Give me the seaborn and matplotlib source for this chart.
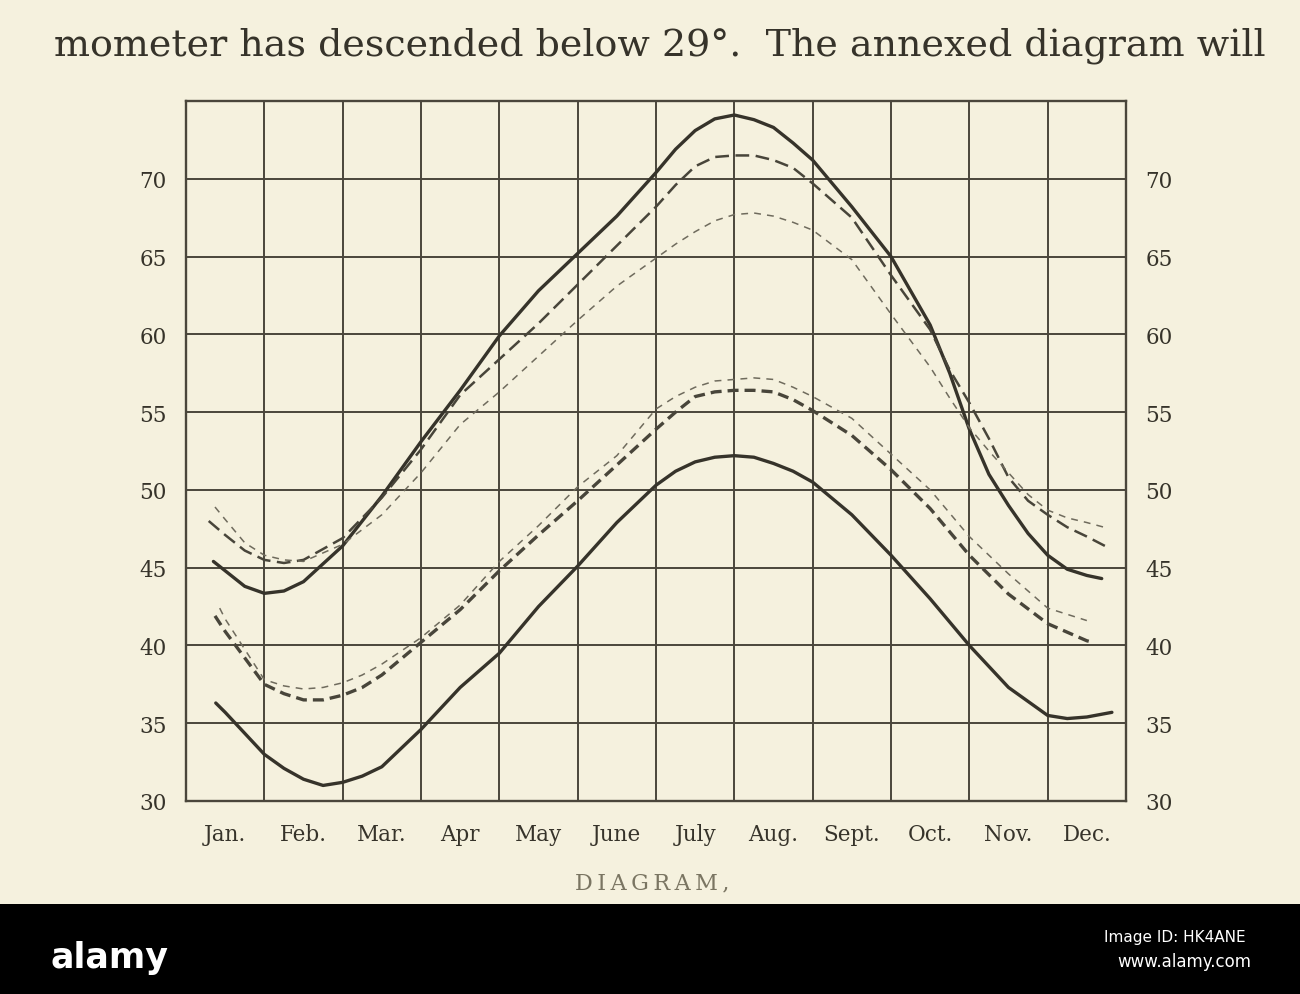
import matplotlib
matplotlib.use("Agg")
import matplotlib.pyplot as plt
from matplotlib.patches import Rectangle
import pandas as pd
import seaborn as sns

# ---------------- data ----------------
months = ["Jan.", "Feb.", "Mar.", "Apr", "May", "June",
          "July", "Aug.", "Sept.", "Oct.", "Nov.", "Dec."]
month_pos = [1, 2, 3, 4, 5, 6, 7, 8, 9, 10, 11, 12]
temp_ticks = [30, 35, 40, 45, 50, 55, 60, 65, 70]

# positions in month units (1 = middle of the Jan. column)
upper_solid_x = [0.85, 1.0, 1.25, 1.5, 1.75, 2.0, 2.5, 3.0, 3.5, 4.0, 4.5, 5.0, 5.5, 6.0,
                 6.5, 6.75, 7.0, 7.25, 7.5, 7.75, 8.0, 8.25, 8.5, 9.0, 9.5, 10.0, 10.25,
                 10.5, 10.75, 11.0, 11.25, 11.5, 11.75, 12.0, 12.19]
upper_solid_y = [45.4, 44.8, 43.8, 43.35, 43.5, 44.1, 46.4, 49.6, 53.1, 56.4, 59.9, 62.8, 65.2, 67.6,
                 70.4, 71.9, 73.1, 73.85, 74.1, 73.8, 73.3, 72.3, 71.2, 68.2, 65.0, 60.6, 57.5,
                 53.9, 51.0, 49.0, 47.2, 45.8, 44.9, 44.5, 44.3]

upper_dash_x = [0.79, 1.0, 1.25, 1.5, 1.75, 2.0, 2.5, 3.0, 3.5, 4.0, 4.5, 5.0, 5.5, 6.0,
                6.5, 6.75, 7.0, 7.25, 7.5, 7.75, 8.0, 8.25, 8.5, 9.0, 9.5, 10.0, 10.25,
                10.5, 10.75, 11.0, 11.25, 11.5, 11.75, 12.0, 12.23]
upper_dash_y = [48.0, 47.1, 46.1, 45.5, 45.3, 45.5, 46.9, 49.5, 52.6, 56.1, 58.4, 60.7, 63.2, 65.7,
                68.2, 69.6, 70.8, 71.4, 71.5, 71.5, 71.2, 70.7, 69.7, 67.5, 63.8, 60.3, 57.7,
                55.6, 53.3, 50.8, 49.3, 48.4, 47.6, 47.0, 46.4]

upper_fine_x = [0.87, 1.0, 1.25, 1.5, 1.75, 2.0, 2.5, 3.0, 3.5, 4.0, 4.5, 5.0, 5.5, 6.0,
                6.5, 6.75, 7.0, 7.25, 7.5, 7.75, 8.0, 8.25, 8.5, 9.0, 9.5, 10.0, 10.25,
                10.5, 10.75, 11.0, 11.25, 11.5, 11.75, 12.0, 12.22]
upper_fine_y = [48.9, 48.1, 46.6, 45.8, 45.5, 45.4, 46.5, 48.4, 51.1, 54.2, 56.3, 58.6, 60.9, 63.1,
                64.9, 65.8, 66.6, 67.3, 67.7, 67.8, 67.6, 67.2, 66.7, 64.8, 61.3, 57.9, 55.9,
                54.0, 52.5, 51.1, 49.7, 48.7, 48.2, 47.9, 47.6]

lower_solid_x = [0.88, 1.0, 1.5, 1.75, 2.0, 2.25, 2.5, 2.75, 3.0, 3.5, 4.0, 4.5, 5.0, 5.5, 6.0,
                 6.5, 6.75, 7.0, 7.25, 7.5, 7.75, 8.0, 8.25, 8.5, 9.0, 9.5, 10.0, 10.5,
                 11.0, 11.5, 11.75, 12.0, 12.32]
lower_solid_y = [36.3, 35.7, 33.0, 32.1, 31.4, 31.0, 31.2, 31.6, 32.2, 34.6, 37.3, 39.5, 42.5, 45.1, 47.9,
                 50.3, 51.2, 51.8, 52.1, 52.2, 52.1, 51.7, 51.2, 50.5, 48.4, 45.8, 43.0, 40.0,
                 37.3, 35.5, 35.3, 35.4, 35.7]

lower_dash_x = [0.87, 1.0, 1.5, 1.75, 2.0, 2.25, 2.5, 2.75, 3.0, 3.5, 4.0, 4.5, 5.0, 5.5, 6.0,
                6.5, 6.75, 7.0, 7.25, 7.5, 7.75, 8.0, 8.25, 8.5, 9.0, 9.5, 10.0, 10.5,
                11.0, 11.5, 12.0, 12.08]
lower_dash_y = [41.9, 40.9, 37.5, 36.9, 36.5, 36.5, 36.8, 37.3, 38.1, 40.2, 42.3, 44.8, 47.1, 49.3, 51.6,
                53.9, 55.0, 56.0, 56.3, 56.4, 56.4, 56.3, 55.8, 55.1, 53.5, 51.3, 48.8, 45.8,
                43.3, 41.4, 40.3, 40.2]

lower_fine_x = [0.93, 1.0, 1.5, 1.75, 2.0, 2.25, 2.5, 2.75, 3.0, 3.5, 4.0, 4.5, 5.0, 5.5, 6.0,
                6.5, 6.75, 7.0, 7.25, 7.5, 7.75, 8.0, 8.25, 8.5, 9.0, 9.5, 10.0, 10.5,
                11.0, 11.5, 12.0]
lower_fine_y = [42.4, 41.7, 37.8, 37.4, 37.2, 37.3, 37.6, 38.1, 38.8, 40.5, 42.6, 45.4, 47.7, 50.2, 52.2,
                55.2, 56.0, 56.6, 57.0, 57.1, 57.2, 57.1, 56.6, 56.0, 54.6, 52.3, 50.0, 47.0,
                44.6, 42.4, 41.6]

series = {
    "upper_solid": (upper_solid_x, upper_solid_y),
    "upper_dash": (upper_dash_x, upper_dash_y),
    "upper_fine": (upper_fine_x, upper_fine_y),
    "lower_solid": (lower_solid_x, lower_solid_y),
    "lower_dash": (lower_dash_x, lower_dash_y),
    "lower_fine": (lower_fine_x, lower_fine_y),
}
df = pd.concat(
    [pd.DataFrame({"month": xs, "temp": ys, "series": name}) for name, (xs, ys) in series.items()],
    ignore_index=True,
)

# ---------------- styling ----------------
paper = "#f5f1de"
ink = "#36332a"
grid_ink = "#4a463b"
light_ink = "#6f6b5d"

sns.set_style("white")
plt.rcParams["font.family"] = ["DejaVu Serif"]

palette = {"upper_solid": ink, "upper_dash": "#48453a", "upper_fine": light_ink,
           "lower_solid": ink, "lower_dash": "#48453a", "lower_fine": light_ink}
dashes = {"upper_solid": "", "upper_dash": (5.5, 2.6), "upper_fine": (4.5, 4.0),
          "lower_solid": "", "lower_dash": (3.3, 1.8), "lower_fine": (4.5, 4.0)}
sizes = {"upper_solid": 2.4, "upper_dash": 1.8, "upper_fine": 1.1,
         "lower_solid": 2.4, "lower_dash": 2.4, "lower_fine": 1.1}

fig = plt.figure(figsize=(13, 9.95), dpi=100, facecolor=paper)
ax = fig.add_axes([186 / 1300, 1 - 802 / 995, 940 / 1300, 700 / 995])
ax.set_facecolor(paper)

sns.lineplot(data=df, x="month", y="temp", hue="series", style="series", size="series",
             palette=palette, dashes=dashes, sizes=sizes, estimator=None, sort=False,
             legend=False, ax=ax, zorder=3)
for line in ax.lines:
    line.set_solid_joinstyle("round")
    line.set_dash_joinstyle("round")

ax.set_xlim(0.5, 12.5)
ax.set_ylim(30, 75)
ax.set_xticks(month_pos)
ax.set_xticklabels(months)
ax.set_xticks([p + 0.5 for p in month_pos[:-1]], minor=True)
ax.set_yticks(temp_ticks)
ax.set_yticklabels([str(t) for t in temp_ticks])
ax.set_xlabel("")
ax.set_ylabel("")

ax.grid(False)
ax.grid(True, which="minor", axis="x", color=grid_ink, linewidth=1.4)
ax.grid(True, which="major", axis="y", color=grid_ink, linewidth=1.4)
ax.set_axisbelow(True)
for sp in ax.spines.values():
    sp.set_visible(True)
    sp.set_color(grid_ink)
    sp.set_linewidth(1.7)

ax.tick_params(axis="x", which="both", length=0, pad=16, labelsize=15.5, labelcolor=ink)
ax.tick_params(axis="y", which="both", length=0, labelsize=15.5, labelcolor=ink,
               left=False, right=False, labelleft=True, labelright=True)
for tick in ax.yaxis.get_major_ticks():
    tick.set_pad(14)

# ---------------- surrounding page text ----------------
top = fig.text(660 / 1300, 1 - 55 / 995,
               "mometer has descended below 29°.  The annexed diagram will",
               ha="center", va="baseline", fontsize=26.5, color=ink, family="DejaVu Serif")
fig.text(652 / 1300, 1 - 883 / 995, "D\u2009I\u2009A\u2009G\u2009R\u2009A\u2009M\u2009,",
         ha="center", va="center", fontsize=16, color="#7a7562", family="DejaVu Serif")

# bottom black band of the scan
fig.patches.append(Rectangle((0, 0), 1, 90 / 995, transform=fig.transFigure,
                             facecolor="black", edgecolor="none", zorder=0))
logo = fig.text(50 / 1300, 1 - 968 / 995, "alamy", ha="left", va="baseline", fontsize=30,
                fontweight="bold", color="white", family=["DejaVu Sans"])
fig.text(1175 / 1300, 1 - 938 / 995, "Image ID: HK4ANE", ha="center", va="center",
         fontsize=11, color="white", family=["DejaVu Sans"])
fig.text(1184 / 1300, 1 - 962 / 995, "www.alamy.com", ha="center", va="center",
         fontsize=12, color="white", family=["DejaVu Sans"])

# fit the widths of the two wide text items to the scan
fig.canvas.draw()
top.set_fontsize(26.5 * 1213 / top.get_window_extent().width)
logo.set_fontsize(30 * 118 / logo.get_window_extent().width)

fig.savefig("out.png", dpi=100, facecolor=paper)
